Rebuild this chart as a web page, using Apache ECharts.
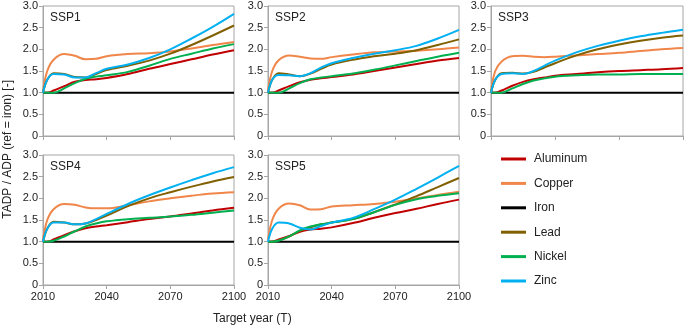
<!DOCTYPE html>
<html>
<head>
<meta charset="utf-8">
<script src="https://cdn.jsdelivr.net/npm/echarts@6/dist/echarts.min.js"></script>
<style>
  html, body { margin: 0; padding: 0; background: #fff; }
  #chart { width: 685px; height: 329px; }
</style>
</head>
<body>
<div id="chart"></div>
<script>
// target years (x values)
const years = [2010, 2012, 2015, 2020, 2025, 2030, 2035, 2040, 2050, 2060, 2070, 2080, 2090, 2100];
const metals = ['Aluminum', 'Copper', 'Iron', 'Lead', 'Nickel', 'Zinc'];
const scenarios = ['SSP1', 'SSP2', 'SSP3', 'SSP4', 'SSP5'];

// SSP1
const ssp1Aluminum = [1.0, 1.0, 1.05, 1.15, 1.25, 1.29, 1.31, 1.34, 1.43, 1.55, 1.66, 1.77, 1.88, 1.98];
const ssp1Copper   = [1.05, 1.5, 1.76, 1.89, 1.85, 1.77, 1.78, 1.84, 1.89, 1.91, 1.95, 2.02, 2.10, 2.17];
const ssp1Iron     = [1, 1, 1, 1, 1, 1, 1, 1, 1, 1, 1, 1, 1, 1];
const ssp1Lead     = [1.0, 1.3, 1.45, 1.43, 1.36, 1.35, 1.43, 1.52, 1.62, 1.74, 1.90, 2.10, 2.32, 2.55];
const ssp1Nickel   = [1.0, 1.0, 1.0, 1.1, 1.22, 1.32, 1.37, 1.40, 1.48, 1.62, 1.78, 1.90, 2.02, 2.12];
const ssp1Zinc     = [1.0, 1.3, 1.43, 1.42, 1.35, 1.35, 1.45, 1.55, 1.65, 1.80, 2.0, 2.25, 2.52, 2.82];

// SSP2
const ssp2Aluminum = [1.0, 1.0, 1.05, 1.15, 1.24, 1.30, 1.33, 1.36, 1.42, 1.50, 1.58, 1.66, 1.74, 1.80];
const ssp2Copper   = [1.05, 1.5, 1.75, 1.86, 1.83, 1.79, 1.78, 1.82, 1.88, 1.93, 1.95, 1.97, 2.0, 2.04];
const ssp2Iron     = [1, 1, 1, 1, 1, 1, 1, 1, 1, 1, 1, 1, 1, 1];
const ssp2Lead     = [1.0, 1.3, 1.45, 1.42, 1.38, 1.44, 1.55, 1.65, 1.76, 1.84, 1.90, 1.98, 2.10, 2.23];
const ssp2Nickel   = [1.0, 1.0, 1.0, 1.1, 1.22, 1.31, 1.35, 1.38, 1.44, 1.53, 1.63, 1.73, 1.83, 1.92];
const ssp2Zinc     = [1.0, 1.3, 1.41, 1.40, 1.38, 1.45, 1.58, 1.68, 1.80, 1.90, 1.98, 2.08, 2.25, 2.45];

// SSP3
const ssp3Aluminum = [1.0, 1.0, 1.05, 1.16, 1.25, 1.31, 1.35, 1.39, 1.43, 1.47, 1.50, 1.52, 1.54, 1.57];
const ssp3Copper   = [1.05, 1.5, 1.72, 1.84, 1.85, 1.83, 1.82, 1.83, 1.86, 1.89, 1.92, 1.96, 2.0, 2.03];
const ssp3Iron     = [1, 1, 1, 1, 1, 1, 1, 1, 1, 1, 1, 1, 1, 1];
const ssp3Lead     = [1.0, 1.3, 1.45, 1.46, 1.44, 1.48, 1.58, 1.68, 1.86, 2.0, 2.11, 2.20, 2.27, 2.32];
const ssp3Nickel   = [1.0, 1.0, 1.0, 1.1, 1.2, 1.28, 1.33, 1.37, 1.40, 1.42, 1.42, 1.43, 1.43, 1.43];
const ssp3Zinc     = [1.0, 1.3, 1.43, 1.45, 1.43, 1.50, 1.62, 1.74, 1.93, 2.08, 2.20, 2.30, 2.38, 2.45];

// SSP4
const ssp4Aluminum = [1.0, 1.0, 1.05, 1.15, 1.24, 1.31, 1.35, 1.38, 1.45, 1.52, 1.58, 1.65, 1.72, 1.78];
const ssp4Copper   = [1.05, 1.5, 1.75, 1.87, 1.85, 1.79, 1.77, 1.77, 1.84, 1.93, 2.0, 2.06, 2.11, 2.14];
const ssp4Iron     = [1, 1, 1, 1, 1, 1, 1, 1, 1, 1, 1, 1, 1, 1];
const ssp4Lead     = [1.0, 1.3, 1.46, 1.44, 1.40, 1.42, 1.50, 1.60, 1.82, 2.0, 2.14, 2.27, 2.39, 2.49];
const ssp4Nickel   = [1.0, 1.0, 1.02, 1.12, 1.24, 1.35, 1.42, 1.47, 1.52, 1.55, 1.58, 1.62, 1.67, 1.72];
const ssp4Zinc     = [1.0, 1.3, 1.44, 1.44, 1.40, 1.42, 1.52, 1.64, 1.87, 2.07, 2.25, 2.42, 2.58, 2.72];

// SSP5
const ssp5Aluminum = [1.0, 1.0, 1.05, 1.13, 1.23, 1.28, 1.30, 1.33, 1.43, 1.55, 1.66, 1.76, 1.87, 1.97];
const ssp5Copper   = [1.05, 1.5, 1.76, 1.88, 1.84, 1.74, 1.75, 1.81, 1.84, 1.87, 1.92, 2.0, 2.08, 2.15];
const ssp5Iron     = [1, 1, 1, 1, 1, 1, 1, 1, 1, 1, 1, 1, 1, 1];
const ssp5Lead     = [1.0, 1.0, 1.03, 1.12, 1.25, 1.33, 1.40, 1.44, 1.52, 1.68, 1.86, 2.05, 2.26, 2.47];
const ssp5Nickel   = [1.0, 1.0, 1.02, 1.12, 1.26, 1.35, 1.40, 1.44, 1.52, 1.68, 1.85, 1.98, 2.06, 2.12];
const ssp5Zinc     = [1.0, 1.3, 1.44, 1.42, 1.32, 1.28, 1.36, 1.44, 1.55, 1.75, 1.97, 2.22, 2.48, 2.75];

const panelData = [
  [ssp1Aluminum, ssp1Copper, ssp1Iron, ssp1Lead, ssp1Nickel, ssp1Zinc],
  [ssp2Aluminum, ssp2Copper, ssp2Iron, ssp2Lead, ssp2Nickel, ssp2Zinc],
  [ssp3Aluminum, ssp3Copper, ssp3Iron, ssp3Lead, ssp3Nickel, ssp3Zinc],
  [ssp4Aluminum, ssp4Copper, ssp4Iron, ssp4Lead, ssp4Nickel, ssp4Zinc],
  [ssp5Aluminum, ssp5Copper, ssp5Iron, ssp5Lead, ssp5Nickel, ssp5Zinc]
];

const colors = ['#C00000', '#F0864A', '#000000', '#806000', '#00B050', '#00B0F0'];
const font = "'Liberation Sans', Arial, sans-serif";
const axisGray = '#A6A6A6';

// panel layout
const panels = [
  { left: 43, top: 6, width: 191, height: 130, labels: false },
  { left: 268, top: 6, width: 191, height: 130, labels: false },
  { left: 491, top: 6, width: 192, height: 130, labels: false },
  { left: 43, top: 155, width: 191, height: 130, labels: true },
  { left: 268, top: 155, width: 191, height: 130, labels: true }
];

const chart = echarts.init(document.getElementById('chart'), null, { renderer: 'canvas' });

const grid = [], xAxis = [], yAxis = [], series = [], title = [];

panels.forEach((p, i) => {
  grid.push({
    left: p.left, top: p.top, width: p.width, height: p.height,
    show: true, borderColor: axisGray, borderWidth: 1, backgroundColor: '#fff'
  });
  xAxis.push({
    gridIndex: i, type: 'value', min: 2010, max: 2100, interval: 30,
    axisLine: { show: true, onZero: false, lineStyle: { color: axisGray } },
    axisTick: { show: true, length: 4, lineStyle: { color: axisGray } },
    axisLabel: {
      show: p.labels, color: '#222', fontSize: 11, fontFamily: font, margin: 6,
      formatter: v => String(v)
    },
    splitLine: { show: false }
  });
  yAxis.push({
    gridIndex: i, type: 'value', min: 0, max: 3, interval: 0.5,
    axisLine: { show: true, lineStyle: { color: axisGray } },
    axisTick: { show: true, length: 4, lineStyle: { color: axisGray } },
    axisLabel: {
      color: '#222', fontSize: 11, fontFamily: font, margin: 5,
      formatter: v => (v === 0 ? '0' : v.toFixed(1))
    },
    splitLine: { show: false }
  });
  title.push({
    text: scenarios[i], left: p.left + 7, top: p.top + 6, padding: 0,
    textStyle: { fontSize: 12, fontWeight: 'normal', color: '#222', fontFamily: font }
  });
  metals.forEach((m, k) => {
    series.push({
      name: m, type: 'line', xAxisIndex: i, yAxisIndex: i,
      data: years.map((y, j) => [y, panelData[i][k][j]]),
      smooth: 0.35, showSymbol: false, symbol: 'none',
      lineStyle: { color: colors[k], width: 2 },
      itemStyle: { color: colors[k] },
      z: k === 2 ? 1 : 2 + k
    });
  });
});

chart.setOption({
  animation: false,
  backgroundColor: '#fff',
  title: title,
  grid: grid,
  xAxis: xAxis,
  yAxis: yAxis,
  series: series,
  legend: {
    data: metals,
    orient: 'vertical',
    left: 501, top: 153, padding: 0,
    icon: 'rect', itemWidth: 25, itemHeight: 3, itemGap: 12.4,
    textStyle: { fontSize: 12, color: '#222', fontFamily: font, padding: [0, 0, 0, 3] }
  },
  graphic: [
    {
      type: 'text', left: 2, top: 80, rotation: Math.PI / 2,
      style: { text: 'TADP / ADP (ref = iron) [-]', fill: '#222', font: '12px ' + font }
    },
    {
      type: 'text', left: 213, top: 313,
      style: { text: 'Target year (T)', fill: '#222', font: '12px ' + font }
    }
  ]
});
</script>
</body>
</html>
